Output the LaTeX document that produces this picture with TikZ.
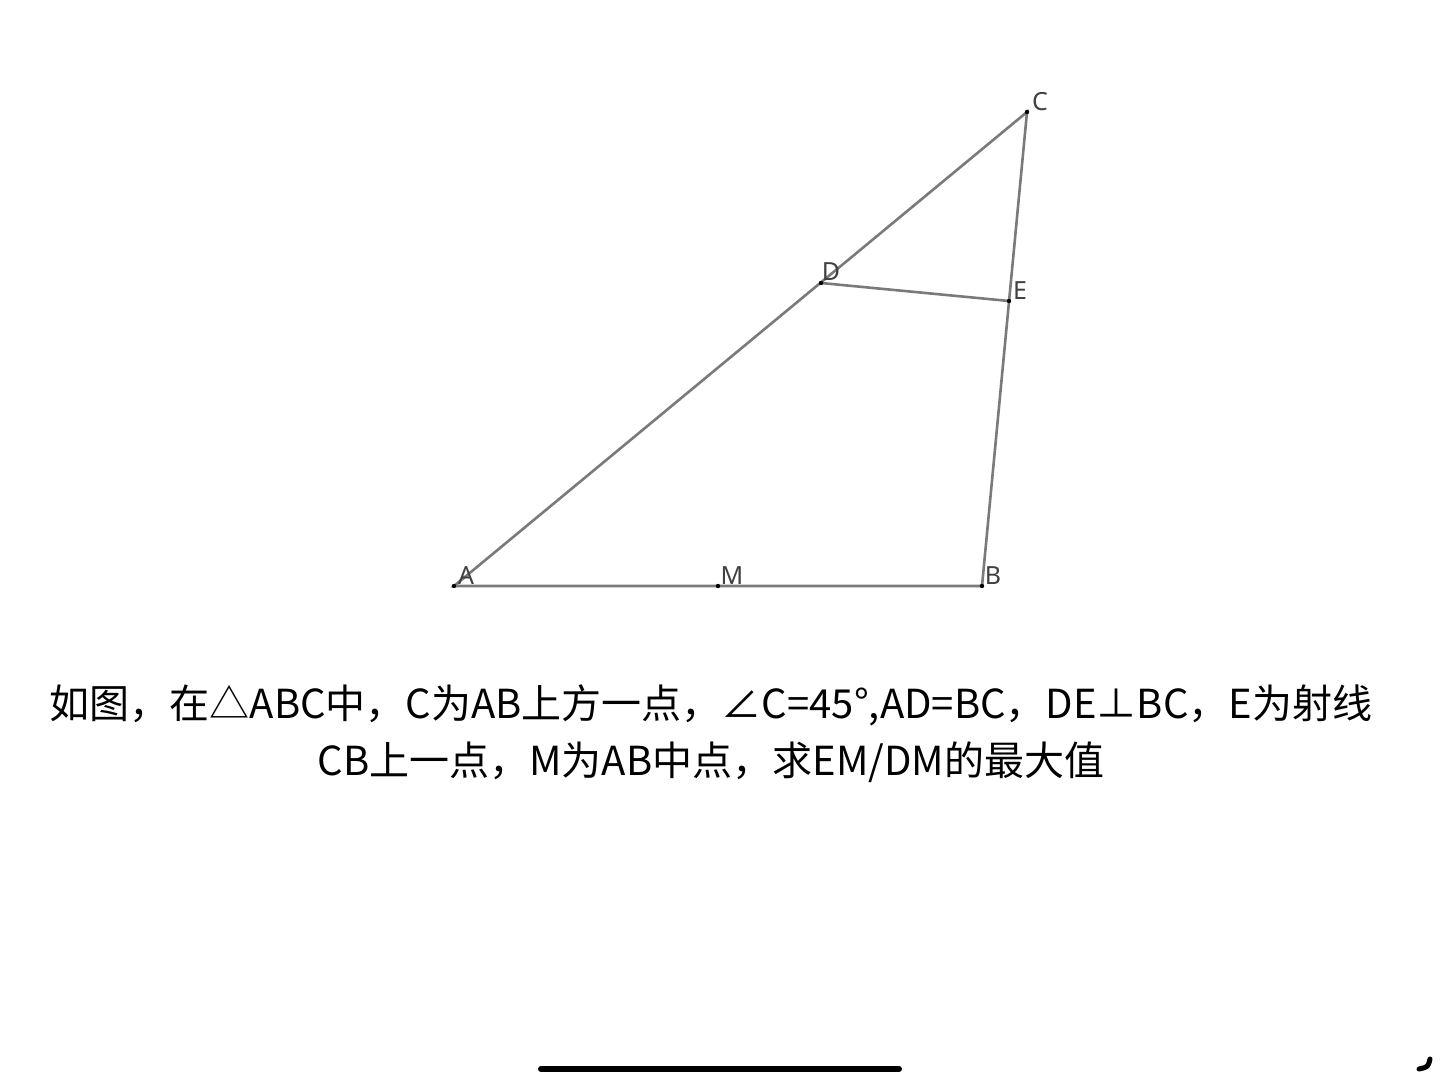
\documentclass[tikz,border=0pt]{standalone}
\usepackage{fontspec}
\setmainfont{Noto Sans CJK SC}
\newfontfamily\lblfont{Noto Sans}
\begin{document}
\begin{tikzpicture}[x=0.5pt, y=-0.5pt,
    side/.style={draw, color=black!52, line width=1.3pt},
    pt/.style={circle, fill=black, inner sep=0pt, minimum size=2.2pt},
    lbl/.style={text=black!75, font=\lblfont\fontsize{12.5}{12.5}\selectfont, inner sep=0pt}]
    \useasboundingbox[fill=white] (0,0) rectangle (1440,1080);
    \coordinate (A) at (454,586);
    \coordinate (M) at (718,586);
    \coordinate (B) at (982,586);
    \coordinate (C) at (1027,112);
    \coordinate (D) at (821,283);
    \coordinate (E) at (1009,301);
    \path[side] (A) -- (B) -- (C) -- cycle;
    \path[side] (D) -- (E);
    \foreach \p in {A,M,B,C,D,E} \node[pt] at (\p) {};
    \node[lbl] (lA) at (466,576) {A};
    \node[lbl] (lM) at (732,576) {M};
    \node[lbl] (lB) at (993,576) {B};
    \node[lbl] (lC) at (1040,102) {C};
    \node[lbl] (lD) at (831,272) {D};
    \node[lbl] (lE) at (1020,291) {E};
    \node[align=center, font=\fontsize{20}{28.5}\selectfont, inner sep=0pt] (txt) at (711,734)
      {如图，在△ABC中，C为AB上方一点，∠C=45°,AD=BC，DE⊥BC，E为射线\\
       CB上一点，M为AB中点，求EM/DM的最大值};
    % screen bar
    \path[draw, line width=3pt, line cap=round] (541,1069) -- (899,1069);
    \path[draw, line width=2.5pt, line cap=round] (1419,1069) .. controls (1428,1067) .. (1430,1059);
\end{tikzpicture}
\end{document}
